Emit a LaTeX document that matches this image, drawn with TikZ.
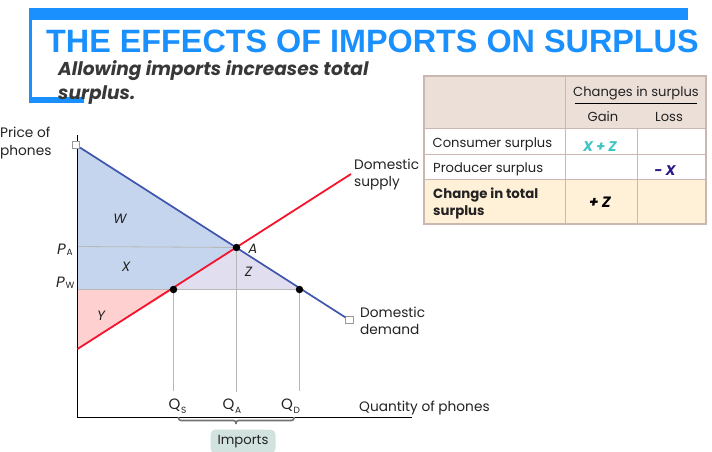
\documentclass[tikz,border=0pt]{standalone}
\usepackage{fontspec}
\setmainfont{Poppins}
\newfontfamily\titlefont{Liberation Sans}
\definecolor{titleblue}{HTML}{1A90FF}
\definecolor{demandblue}{HTML}{3F55AE}
\definecolor{supplyred}{HTML}{F5142D}
\definecolor{areablue}{HTML}{C5D5EE}
\definecolor{areapink}{HTML}{FFD0D0}
\definecolor{arealav}{HTML}{E0DEEF}
\definecolor{headfill}{HTML}{ECDFD8}
\definecolor{totalfill}{HTML}{FFF0D8}
\definecolor{tableline}{HTML}{C9B8B0}
\definecolor{tealtxt}{HTML}{3FC4C4}
\definecolor{navytxt}{HTML}{2E1A87}
\definecolor{guide}{HTML}{B8B8B8}
\definecolor{importsfill}{HTML}{D2E3DF}
\definecolor{ink}{HTML}{222222}
\tikzset{
  x=1pt,y=-1pt,
  lab/.style={inner sep=0pt,font=\fontsize{13.7}{17.5}\selectfont,text=ink},
  ttxt/.style={inner sep=0pt,font=\fontsize{13.1}{15}\selectfont,text=ink},
  var/.style={inner sep=0pt,font=\fontsize{13.5}{15}\selectfont\itshape,text=ink},
  sym/.style={inner sep=0pt,font=\fontsize{15}{16}\selectfont,text=ink},
  subs/.style={inner sep=0pt,font=\fontsize{9}{10}\selectfont,text=ink},
  dotm/.style={circle,fill=black,inner sep=0pt,minimum size=7.5pt},
  endm/.style={draw=gray!80,fill=white,inner sep=0pt,minimum size=7.5pt,line width=.7pt},
  guideline/.style={guide,line width=.8pt},
  tline/.style={tableline,line width=1pt},
  tbox/.style={tableline,line width=2pt},
}
\begin{document}
\begin{tikzpicture}
\useasboundingbox (0,0) rectangle (712,452);
% frame
\fill[titleblue] (29,8) rectangle (688,20);
\fill[titleblue] (29,20) rectangle (32,103);
\fill[titleblue] (29,97) rectangle (84,103);
\node[anchor=west,inner sep=0pt,text=titleblue,font=\titlefont\bfseries\fontsize{32.35}{34}\selectfont] (title) at (46,41.5) {THE EFFECTS OF IMPORTS ON SURPLUS};
\node[anchor=north west,inner sep=0pt,align=left,text=ink!90,font=\bfseries\itshape\fontsize{18.6}{24.5}\selectfont] (subtitle) at (58,60) {Allowing imports increases total\\surplus.};
% coordinates
\coordinate (O) at (77.5,417);
\coordinate (Ytop) at (77.5,135);
\coordinate (Xend) at (412,417);
\coordinate (PA) at (77.5,246.5);
\coordinate (Pw) at (77.5,289.5);
\coordinate (Dtop) at (77.5,145);
\coordinate (Sbot) at (77.5,349);
\coordinate (Send) at (351,174);
\coordinate (A) at (236.5,247.5);
\coordinate (S) at (173.5,289.5);
\coordinate (D) at (299.5,289.5);
% areas
\fill[areablue] (Dtop) -- (A) -- (S) -- (Pw) -- cycle;
\fill[arealav] (S) -- (A) -- (D) -- cycle;
\fill[areapink] (Pw) -- (S) -- (Sbot) -- cycle;
% guides
\draw[guide,line width=.8pt] (PA) -- (A);
\draw[guide,line width=.8pt] (Pw) -- (D);
\draw[guideline] (S) -- (173.5,391);
\draw[guideline] (A) -- (236.5,392);
\draw[guideline] (D) -- (299.5,391);
% axes
\draw[black,line width=.9pt] (Ytop) -- (O) -- (Xend);
% curves
\node[endm] (dA) at (76,145) {};
\node[endm] (dB) at (349.5,320) {};
\draw[demandblue,line width=1.7pt] (dA) -- (dB);
\draw[supplyred,line width=1.8pt] (Sbot) -- (Send);
\node[dotm] (nA) at (A) {};
\node[dotm] (nS) at (S) {};
\node[dotm] (nD) at (D) {};
% axis labels
\node[lab,anchor=north west,align=left] (ylab) at (0,127) {Price of\\phones};
\node[lab,anchor=north west,align=left] (dsup) at (354,158.5) {Domestic\\supply};
\node[lab,anchor=north west,align=left] (ddem) at (360,306.5) {Domestic\\demand};
\node[lab,anchor=west] (xlab) at (359,408) {Quantity of phones};
% area letters
\node[var] (w) at (120,219) {W};
\node[var] (x) at (126,266.5) {X};
\node[var] (y) at (101,316) {Y};
\node[var] (z) at (248.5,272) {Z};
\node[var] (a) at (253,248.5) {A};
% prices
\node[sym,anchor=east,font=\itshape\fontsize{15}{16}\selectfont] (pa) at (66,249) {P};
\node[subs,anchor=west] (pasub) at (pa.east) [yshift=-3pt,xshift=.5pt] {A};
\node[sym,anchor=east,font=\itshape\fontsize{15}{16}\selectfont] (pw) at (65,282) {P};
\node[subs,anchor=west] (pwsub) at (pw.east) [yshift=-3pt,xshift=.5pt] {W};
% quantities
\node[sym] (qs) at (174.5,405.5) {Q};
\node[subs,anchor=west] at (181,410) {S};
\node[sym] (qa) at (228.5,405.5) {Q};
\node[subs,anchor=west] at (235,410) {A};
\node[sym] (qd) at (287,405.5) {Q};
\node[subs,anchor=west] at (293.5,410) {D};
% brace
\draw[gray!90!black,line width=1.6pt,rounded corners=2.5pt] (178.5,417) -- (178.5,420.5) -- (236,420.5) -- (236,424) (236,424) -- (236,420.5) -- (294,420.5) -- (294,417);
\node[fill=importsfill,rounded corners=5pt,minimum width=65pt,minimum height=24pt,inner sep=0pt,text=ink,font=\fontsize{13.2}{15}\selectfont] (imports) at (243,441.5) {Imports};
% table
\fill[headfill] (424,76) rectangle (706,128);
\fill[totalfill] (424,179) rectangle (706,224);
\draw[tline] (424,128) -- (706,128);
\draw[tline] (424,154) -- (706,154);
\draw[tline] (424,179) -- (706,179);
\draw[tline] (565,76) -- (565,224);
\draw[tline] (637,128) -- (637,224);
\draw[tbox] (424,76) rectangle (706,224);
\draw[black,line width=.8pt] (575,103.5) -- (697,103.5);
\node[ttxt] (chg) at (636,93) {Changes in surplus};
\node[ttxt] (gain) at (603,117) {Gain};
\node[ttxt] (loss) at (669,117) {Loss};
\node[ttxt,anchor=west] (cs) at (432.5,144) {Consumer surplus};
\node[ttxt,anchor=west] (ps) at (433,169) {Producer surplus};
\node[ttxt,anchor=north west,align=left,font=\bfseries\fontsize{13.3}{17}\selectfont] (cts) at (433,188) {Change in total\\surplus};
\node[inner sep=0pt,text=tealtxt,font=\bfseries\itshape\fontsize{14}{15}\selectfont] (xz) at (600,146.5) {X + Z};
\node[inner sep=0pt,text=navytxt,font=\bfseries\itshape\fontsize{14}{15}\selectfont] (mx) at (665,170.5) {- X};
\node[inner sep=0pt,text=black,font=\bfseries\itshape\fontsize{15}{16}\selectfont] (pz) at (600,202.5) {+ Z};
\end{tikzpicture}
\end{document}
